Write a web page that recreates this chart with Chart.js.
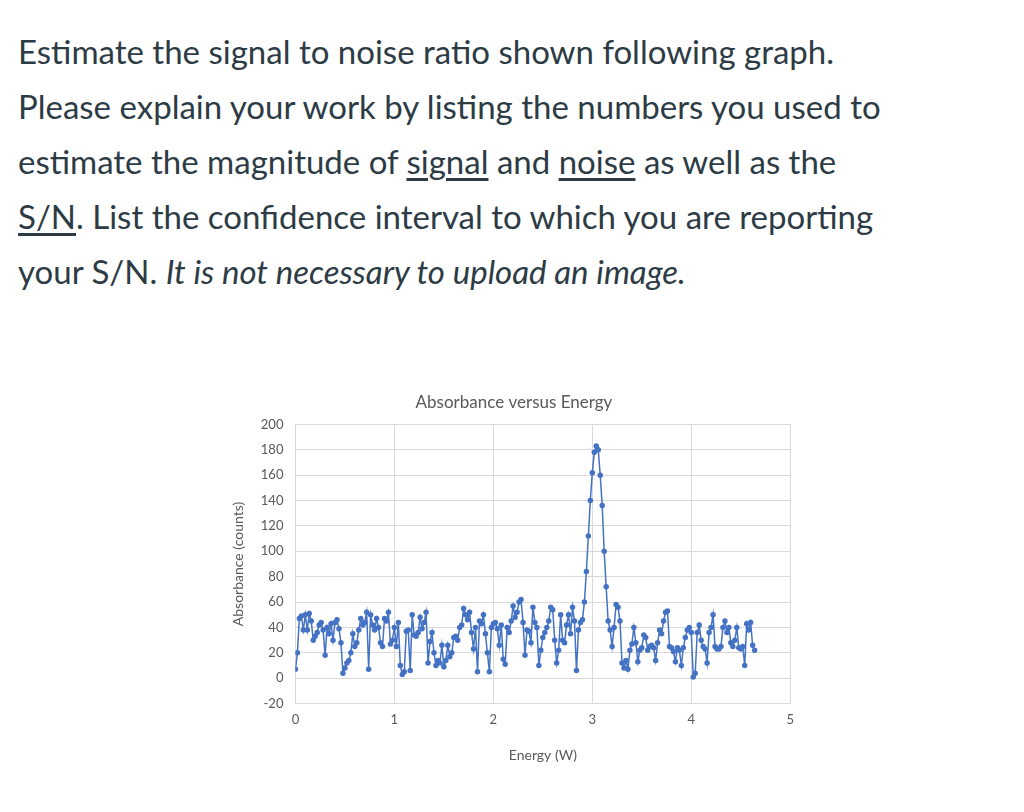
<!DOCTYPE html>
<html>
<head>
<meta charset="utf-8">
<script src="https://cdn.jsdelivr.net/npm/chart.js@4"></script>
<style>
body { margin: 0; background: #fff; font-family: Lato, "Noto Sans", sans-serif; }
#text { position: absolute; left: 18px; top: 24px; white-space: nowrap; font-size: 33px; line-height: 55px; color: #2d3b45; }
#text u { text-underline-offset: 4px; }
#wrap { position: absolute; left: 226px; top: 390px; width: 576px; height: 378px; }
</style>
</head>
<body>
<div id="text">Estimate the signal to noise ratio shown following graph.<br>
Please explain your work by listing the numbers you used to<br>
estimate the magnitude of <u>signal</u> and <u>noise</u> as well as the<br>
<u>S/N</u>. List the confidence interval to which you are reporting<br>
your S/N. <i>It is not necessary to upload an image.</i></div>
<div id="wrap"><canvas id="chart"></canvas></div>
<script>
// x spacing of the recorded points (W)
const stepW = 0.02;

// absorbance readings (counts)
const absorbance = [
  7, 20, 47, 49, 38, 50, 38, 51, 45, 30, 33, 36, 42, 44, 38, 18, 40, 35, 43, 30,
  44, 46, 39, 28, 4, 8, 12, 14, 20, 35, 25, 28, 38, 47, 42, 44, 52, 7, 50, 42,
  38, 47, 40, 28, 25, 47, 45, 52, 27, 30,
  40, 25, 44, 10, 3, 5, 37, 38, 6, 50, 34, 33, 36, 48, 39, 44, 52, 12, 29, 36,
  20, 10, 14, 12, 26, 9, 14, 26, 17, 20, 32, 33, 30, 40, 42, 55, 50, 46, 52, 36,
  23, 40, 5, 45, 43, 50, 35, 20, 5, 40,
  43, 44, 39, 26, 42, 15, 11, 40, 36, 45, 57, 48, 52, 60, 62, 44, 18, 38, 37, 28,
  56, 44, 40, 10, 22, 32, 36, 40, 45, 56, 54, 30, 12, 22, 50, 30, 28, 42, 50, 35,
  56, 45, 6, 38, 44, 46, 
  60, 84, 112, 140, 162, 178, 183, 180, 160, 136, 100, 72, 45, 38, 25, 40, 58, 56, 45, 12,
  8, 14, 7, 22, 27, 40, 28, 13, 22, 24, 34, 32, 22, 25, 26, 24, 14, 28, 38, 35,
  45, 52, 53, 25, 24, 21, 13, 24, 22, 10, 24, 32, 38, 40, 36, 1, 4, 36, 42, 30,
  25, 23, 12, 36, 40, 50, 25, 23, 23, 25, 40, 45, 36, 40, 28, 25, 30, 40, 24, 23,
  25, 10, 43, 38, 44, 26, 22
];

const xTicks = [0, 1, 2, 3, 4, 5];
const yTicks = [-20, 0, 20, 40, 60, 80, 100, 120, 140, 160, 180, 200];

const points = absorbance.map((v, i) => ({ x: +(i * stepW).toFixed(2), y: v }));
const blue = "#4472c4";
const gridColor = "#d9d9d9";
const labelColor = "#595959";

new Chart(document.getElementById("chart"), {
    type: "scatter",
    data: {
        datasets: [{
            data: points,
            showLine: true,
            borderColor: blue,
            backgroundColor: blue,
            borderWidth: 1.5,
            pointRadius: 2,
            pointHoverRadius: 3
        }]
    },
    options: {
        responsive: true,
        maintainAspectRatio: false,
        animation: false,
        plugins: {
            legend: { display: false },
            title: {
                display: true,
                text: "Absorbance versus Energy",
                color: labelColor,
                font: { family: "Lato", size: 17, weight: "normal" },
                padding: { top: 2, bottom: 12 }
            }
        },
        scales: {
            x: {
                type: "linear",
                min: 0,
                max: 5,
                afterBuildTicks: (s) => { s.ticks = xTicks.map(v => ({ value: v })); },
                ticks: { color: labelColor, font: { family: "Lato", size: 13 }, padding: 8 },
                grid: { color: gridColor, drawTicks: false },
                border: { color: gridColor },
                title: { display: true, text: "Energy (W)", color: labelColor, font: { family: "Lato", size: 14 }, padding: { top: 12 } }
            },
            y: {
                min: -20,
                max: 200,
                afterBuildTicks: (s) => { s.ticks = yTicks.map(v => ({ value: v })); },
                ticks: { color: labelColor, font: { family: "Lato", size: 13 }, padding: 12 },
                grid: { color: gridColor, drawTicks: false },
                border: { color: gridColor },
                title: { display: true, text: "Absorbance (counts)", color: labelColor, font: { family: "Lato", size: 14 }, padding: { bottom: 2 } }
            }
        }
    }
});
</script>
</body>
</html>
